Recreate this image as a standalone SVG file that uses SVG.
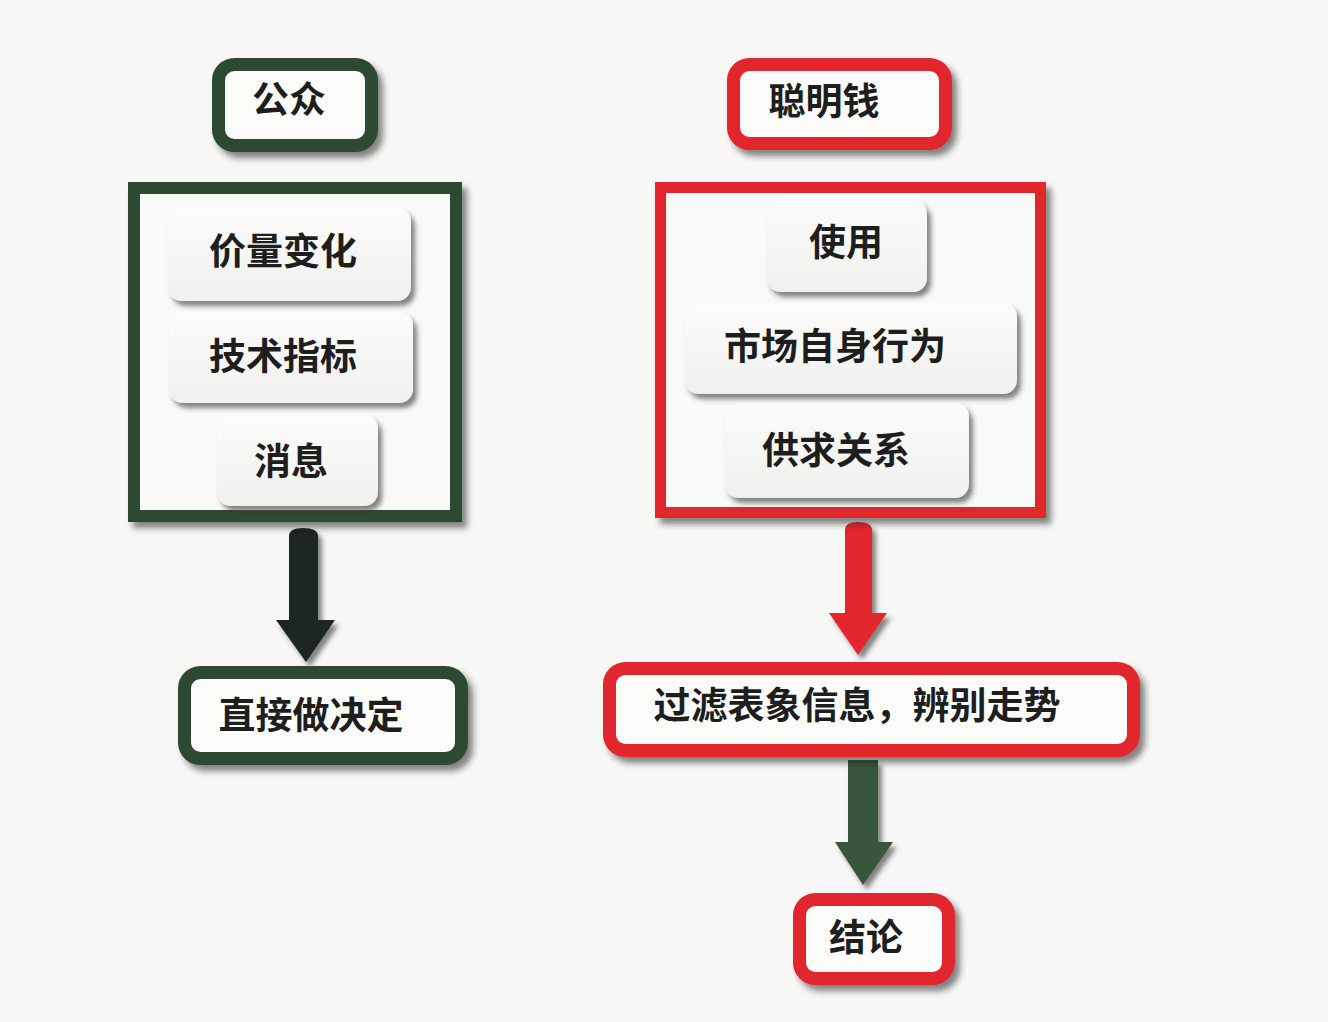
<svg xmlns="http://www.w3.org/2000/svg" width="1328" height="1022" viewBox="0 0 1328 1022">
<defs>
<filter id="sh" x="-20%" y="-20%" width="150%" height="150%">
<feDropShadow dx="5" dy="6" stdDeviation="3" flood-color="#222" flood-opacity="0.55"/>
</filter>
<filter id="csh" x="-20%" y="-20%" width="150%" height="150%">
<feDropShadow dx="4" dy="5" stdDeviation="2.5" flood-color="#333" flood-opacity="0.6"/>
</filter>
<linearGradient id="cardg" x1="0" y1="0" x2="0" y2="1">
<stop offset="0" stop-color="#fbfbf9"/>
<stop offset="1" stop-color="#f0f0ee"/>
</linearGradient>
</defs>
<style>
.bg{fill:#f7f7f5}
.gbox{fill:#fbfbf9;stroke:#2f4a31;stroke-width:13}
.rbox{fill:#fbfbf9;stroke:#e1262e;stroke-width:13}
.gframe{fill:#f9f9f7;stroke:#2f4a31;stroke-width:12}
.rframe{fill:#f9f9f7;stroke:#e1262e;stroke-width:11}
.card{fill:url(#cardg)}
.t{font-family:"Noto Sans CJK SC","Noto Sans",sans-serif;font-weight:bold;font-size:37px;fill:#1e1e1e;text-anchor:middle}
</style>
<rect class="bg" x="0" y="0" width="1328" height="1022"/>

<g id="connectors">
<path d="M289,536 Q289,528 303,528 Q318,528 318,536 L318,620 L335,620 L306,662 L276,620 L289,620 Z" fill="#1c2720" filter="url(#csh)"/>
<path d="M845,530 Q845,522 858,522 Q872,522 872,530 L872,613 L887,613 L858,655 L829,613 L845,613 Z" fill="#e1262e" filter="url(#csh)"/>
<path d="M848,760 L878,760 L878,842 L893,842 L863,885 L835,842 L848,842 Z" fill="#37573a" filter="url(#csh)"/>
</g>

<g id="node-gongzhong">
<rect class="gbox" x="218.5" y="64.5" width="153" height="81" rx="16" filter="url(#sh)"/>
<text class="t" x="289" y="113">公众</text>
</g>

<g id="node-public-group">
<rect class="gframe" x="134" y="188" width="322" height="328" filter="url(#sh)"/>
<g id="node-jialiang">
<rect class="card" x="168" y="208" width="243" height="93" rx="14" filter="url(#csh)"/>
<text class="t" x="283" y="265">价量变化</text>
</g>
<g id="node-jishu">
<rect class="card" x="169" y="312" width="244" height="91" rx="14" filter="url(#csh)"/>
<text class="t" x="283" y="370">技术指标</text>
</g>
<g id="node-xiaoxi">
<rect class="card" x="217" y="415" width="161" height="91" rx="14" filter="url(#csh)"/>
<text class="t" x="291" y="475">消息</text>
</g>
</g>

<g id="node-zhijie">
<rect class="gbox" x="184.5" y="672.5" width="277" height="86" rx="16" filter="url(#sh)"/>
<text class="t" x="311" y="729">直接做决定</text>
</g>

<g id="node-congmingqian">
<rect class="rbox" x="733.5" y="64.5" width="212" height="79" rx="16" filter="url(#sh)"/>
<text class="t" x="824" y="115">聪明钱</text>
</g>

<g id="node-smart-group">
<rect class="rframe" x="660.5" y="187.5" width="380" height="325" filter="url(#sh)"/>
<g id="node-shiyong">
<rect class="card" x="767" y="200" width="160" height="92" rx="14" filter="url(#csh)"/>
<text class="t" x="846" y="256">使用</text>
</g>
<g id="node-shichang">
<rect class="card" x="685" y="303" width="332" height="91" rx="14" filter="url(#csh)"/>
<text class="t" x="835" y="360">市场自身行为</text>
</g>
<g id="node-gongqiu">
<rect class="card" x="725" y="403" width="244" height="95" rx="14" filter="url(#csh)"/>
<text class="t" x="836" y="464">供求关系</text>
</g>
</g>

<g id="node-guolv">
<rect class="rbox" x="609.5" y="668.5" width="524" height="82" rx="16" filter="url(#sh)"/>
<text class="t" x="857" y="719">过滤表象信息，辨别走势</text>
</g>

<g id="node-jielun">
<rect class="rbox" x="799.5" y="899.5" width="149" height="79" rx="16" filter="url(#sh)"/>
<text class="t" x="866" y="951">结论</text>
</g>
</svg>
